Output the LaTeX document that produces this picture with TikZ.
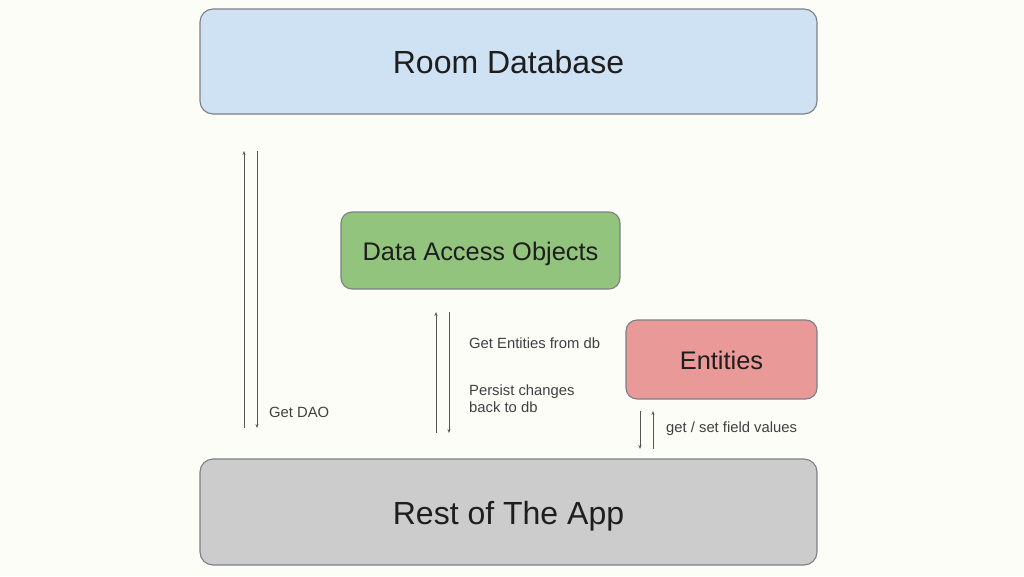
\documentclass[tikz,border=0pt]{standalone}
\usepackage{fontspec}
\setmainfont{Liberation Sans}
\usetikzlibrary{arrows.meta}
\definecolor{bg}{HTML}{FDFDF8}
\definecolor{roomfill}{HTML}{CFE2F3}
\definecolor{daofill}{HTML}{93C47D}
\definecolor{entfill}{HTML}{EA9999}
\definecolor{restfill}{HTML}{CCCCCC}
\definecolor{edgegray}{HTML}{7B8088}
\definecolor{linegray}{HTML}{555555}
\definecolor{txt}{HTML}{1E1E1E}
\definecolor{lbl}{HTML}{404040}
\newcommand{\shiftdown}[2]{\raisebox{-#1}[0.72em][0.2em]{#2}}
\begin{document}
\begin{tikzpicture}[x=1pt,y=-1pt,
  box/.style={draw=edgegray, line width=1.1pt, rounded corners=13pt, inner sep=0pt, text=txt},
  bigbox/.style={box, minimum width=617pt, minimum height=105pt, font=\fontsize{32}{36}\selectfont},
  smallbox/.style={box, rounded corners=11pt, font=\fontsize{25.4}{28}\selectfont},
  flow/.style={draw=linegray, line width=0.9pt, -{Stealth[length=4pt,width=3pt]}},
  lab/.style={text=lbl, font=\fontsize{14.8}{17}\selectfont, anchor=west, inner sep=0pt, align=left}
]
\fill[bg] (0,0) rectangle (1024,576);
\useasboundingbox (0,0) rectangle (1024,576);

\node[bigbox, fill=roomfill] (room) at (508.5,61.5) {\shiftdown{4pt}{Room Database}};
\node[smallbox, fill=daofill, minimum width=279pt, minimum height=77pt] (dao) at (480.5,250.5) {\shiftdown{3pt}{Data Access Objects}};
\node[smallbox, fill=entfill, minimum width=191pt, minimum height=79pt] (ent) at (721.5,359.5) {\shiftdown{3pt}{Entities}};
\node[bigbox, fill=restfill, minimum height=106pt] (rest) at (508.5,512) {\shiftdown{4pt}{Rest of The App}};

% left pair
\coordinate (a1t) at (244,151); \coordinate (a1b) at (244,428);
\coordinate (a2t) at (257,151); \coordinate (a2b) at (257,428);
\draw[flow] (a1b) -- (a1t);
\draw[flow] (a2t) -- (a2b);
\node[lab] (getdao) at (269,412) {Get DAO};

% middle pair
\coordinate (b1t) at (436,312); \coordinate (b1b) at (436,433);
\coordinate (b2t) at (449,312); \coordinate (b2b) at (449,433);
\draw[flow] (b1b) -- (b1t);
\draw[flow] (b2t) -- (b2b);
\node[lab] (getent) at (469,343) {Get Entities from db};
\node[lab, anchor=north west] (persist) at (469,385) {Persist changes\\back to db};

% right pair
\coordinate (c1t) at (640,411); \coordinate (c1b) at (640,449);
\coordinate (c2t) at (653,411); \coordinate (c2b) at (653,449);
\draw[flow] (c1t) -- (c1b);
\draw[flow] (c2b) -- (c2t);
\node[lab] (getset) at (666,429) {get / set field values};
\end{tikzpicture}
\end{document}
